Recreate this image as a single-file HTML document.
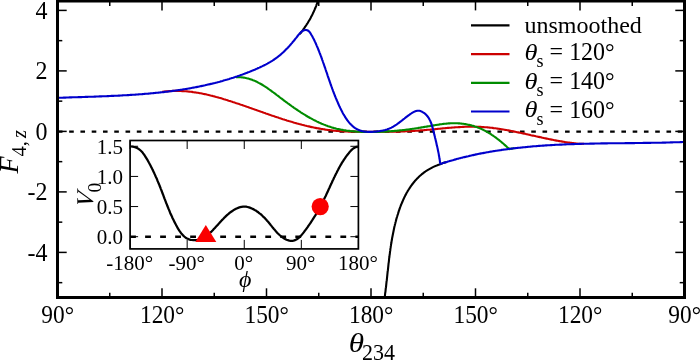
<!DOCTYPE html>
<html><head><meta charset="utf-8"><style>
html,body{margin:0;padding:0;background:#fff;}
svg{display:block;}
text{font-family:"Liberation Serif","Times New Roman",serif;fill:#000;}
</style></head><body>
<svg width="700" height="360" viewBox="0 0 700 360">
<defs><clipPath id="cmain"><rect x="57.5" y="1.2" width="627" height="296.3"/></clipPath></defs>
<rect width="700" height="360" fill="#fff"/>
<line x1="57.9" y1="131.6" x2="684" y2="131.6" stroke="#000" stroke-width="2.3" stroke-dasharray="4.6 6.67"/>
<g fill="none" stroke-linejoin="round" clip-path="url(#cmain)">
<path d="M299.7,34.2 L300.4,33.3 L301.0,32.5 L301.6,31.7 L302.3,30.9 L302.9,30.1 L303.5,29.2 L304.1,28.4 L304.6,27.6 L305.2,26.7 L305.8,25.9 L306.4,25.0 L306.9,24.1 L307.5,23.3 L308.0,22.4 L308.5,21.5 L309.0,20.7 L309.6,19.8 L310.1,18.9 L310.6,18.0 L311.0,17.1 L311.5,16.2 L312.0,15.3 L312.5,14.3 L312.9,13.4 L313.3,12.5 L313.8,11.5 L314.2,10.6 L314.6,9.7 L315.0,8.7 L315.4,7.8 L315.8,6.8 L316.2,5.8 L316.5,4.9 L316.9,3.9 L317.2,2.9 L317.6,1.9 L317.9,0.9 L318.2,-0.1 L318.5,-1.1 L318.8,-2.1" stroke="#000" stroke-width="2.1"/>
<path d="M384.0,301.7 L384.2,300.8 L384.3,299.8 L384.4,298.8 L384.6,297.9 L384.7,296.9 L384.9,296.0 L385.0,295.0 L385.1,294.0 L385.2,293.0 L385.4,292.1 L385.5,291.1 L385.6,290.1 L385.7,289.1 L385.8,288.1 L386.0,287.2 L386.1,286.2 L386.2,285.2 L386.3,284.2 L386.4,283.2 L386.5,282.2 L386.6,281.2 L386.8,280.2 L386.9,279.2 L387.0,278.2 L387.1,277.2 L387.2,276.2 L387.3,275.2 L387.4,274.2 L387.5,273.2 L387.6,272.2 L387.7,271.2 L387.9,270.2 L388.0,269.2 L388.1,268.2 L388.2,267.1 L388.3,266.1 L388.4,265.1 L388.5,264.1 L388.6,263.1 L388.8,262.1 L388.9,261.1 L389.0,260.1 L389.1,259.0 L389.2,258.0 L389.4,257.0 L389.5,256.0 L389.6,255.0 L389.8,254.0 L389.9,253.0 L390.0,251.9 L390.2,250.9 L390.3,249.9 L390.4,248.9 L390.6,247.9 L390.7,246.9 L390.9,245.9 L391.0,244.8 L391.2,243.8 L391.4,242.8 L391.5,241.8 L391.7,240.8 L391.9,239.8 L392.0,238.8 L392.2,237.8 L392.4,236.8 L392.6,235.8 L392.8,234.8 L393.0,233.8 L393.2,232.8 L393.4,231.8 L393.6,230.8 L393.8,229.8 L394.0,228.8 L394.2,227.8 L394.4,226.8 L394.7,225.8 L394.9,224.8 L395.2,223.8 L395.4,222.8 L395.7,221.8 L395.9,220.9 L396.2,219.9 L396.4,218.9 L396.7,217.9 L397.0,217.0 L397.3,216.0 L397.6,215.0 L397.9,214.1 L398.2,213.1 L398.5,212.1 L398.8,211.2 L399.1,210.2 L399.5,209.3 L399.8,208.3 L400.1,207.4 L400.5,206.4 L400.8,205.5 L401.2,204.5 L401.6,203.6 L402.0,202.7 L402.4,201.8 L402.8,200.8 L403.2,199.9 L403.6,199.0 L404.0,198.1 L404.4,197.2 L404.9,196.3 L405.3,195.4 L405.8,194.6 L406.2,193.7 L406.7,192.8 L407.2,192.0 L407.7,191.1 L408.2,190.3 L408.7,189.4 L409.3,188.6 L409.8,187.8 L410.4,186.9 L410.9,186.1 L411.5,185.3 L412.1,184.5 L412.7,183.8 L413.3,183.0 L413.9,182.2 L414.5,181.5 L415.1,180.7 L415.8,180.0 L416.5,179.3 L417.1,178.6 L417.8,177.9 L418.5,177.2 L419.2,176.5 L420.0,175.8 L420.7,175.2 L421.5,174.5 L422.2,173.9 L423.0,173.3 L423.8,172.7 L424.6,172.1 L425.4,171.5 L426.3,170.9 L427.1,170.4 L428.0,169.8 L428.9,169.3 L429.8,168.8 L430.7,168.3 L431.6,167.8 L432.5,167.3 L433.5,166.9 L434.5,166.4 L435.5,166.0 L436.5,165.6 L437.5,165.2 L438.5,164.8 L439.6,164.5 L440.6,164.1 L441.2,163.7 L442.1,163.4 L443.1,163.0 L444.0,162.7 L445.0,162.4 L446.0,162.2" stroke="#000" stroke-width="2.1"/>
<path d="M162.0,91.8 L163.0,91.7 L164.1,91.6 L165.1,91.5 L166.1,91.4 L167.1,91.3 L168.1,91.2 L169.1,91.1 L170.1,91.1 L171.1,91.0 L172.1,91.0 L173.1,90.9 L174.1,90.9 L175.1,90.9 L176.1,90.9 L177.1,90.9 L178.1,90.9 L179.1,90.9 L180.1,91.0 L181.1,91.0 L182.1,91.1 L183.1,91.1 L184.1,91.2 L185.1,91.2 L186.1,91.3 L187.1,91.4 L188.1,91.5 L189.0,91.6 L190.0,91.7 L191.0,91.8 L192.0,91.9 L193.0,92.1 L194.0,92.2 L194.9,92.4 L195.9,92.5 L196.9,92.7 L197.9,92.8 L198.9,93.0 L199.8,93.2 L200.8,93.3 L201.8,93.5 L202.8,93.7 L203.7,93.9 L204.7,94.1 L205.7,94.3 L206.7,94.6 L207.6,94.8 L208.6,95.0 L209.6,95.2 L210.5,95.5 L211.5,95.7 L212.5,95.9 L213.4,96.2 L214.4,96.4 L215.4,96.7 L216.3,97.0 L217.3,97.2 L218.3,97.5 L219.2,97.8 L220.2,98.0 L221.2,98.3 L222.1,98.6 L223.1,98.9 L224.0,99.2 L225.0,99.5 L225.9,99.8 L226.9,100.1 L227.9,100.4 L228.8,100.7 L229.8,101.0 L230.7,101.3 L231.7,101.6 L232.6,101.9 L233.6,102.2 L234.5,102.5 L235.5,102.9 L236.5,103.2 L237.4,103.5 L238.4,103.8 L239.3,104.1 L240.3,104.5 L241.2,104.8 L242.2,105.1 L243.1,105.4 L244.1,105.8 L245.0,106.1 L246.0,106.4 L246.9,106.8 L247.9,107.1 L248.8,107.4 L249.7,107.8 L250.7,108.1 L251.6,108.4 L252.6,108.8 L253.5,109.1 L254.5,109.4 L255.4,109.8 L256.4,110.1 L257.3,110.4 L258.3,110.8 L259.2,111.1 L260.2,111.4 L261.1,111.8 L262.1,112.1 L263.0,112.4 L263.9,112.8 L264.9,113.1 L265.8,113.4 L266.8,113.7 L267.7,114.1 L268.7,114.4 L269.6,114.7 L270.6,115.1 L271.5,115.4 L272.5,115.7 L273.4,116.0 L274.4,116.3 L275.3,116.7 L276.3,117.0 L277.2,117.3 L278.2,117.6 L279.1,117.9 L280.1,118.2 L281.0,118.6 L282.0,118.9 L282.9,119.2 L283.9,119.5 L284.8,119.8 L285.8,120.1 L286.7,120.4 L287.7,120.7 L288.6,121.0 L289.6,121.2 L290.5,121.5 L291.5,121.8 L292.4,122.1 L293.4,122.4 L294.4,122.7 L295.3,122.9 L296.3,123.2 L297.2,123.5 L298.2,123.7 L299.2,124.0 L300.1,124.2 L301.1,124.5 L302.0,124.8 L303.0,125.0 L304.0,125.2 L304.9,125.5 L305.9,125.7 L306.9,126.0 L307.8,126.2 L308.8,126.4 L309.8,126.6 L310.7,126.9 L311.7,127.1 L312.7,127.3 L313.7,127.5 L314.6,127.7 L315.6,127.9 L316.6,128.1 L317.6,128.3 L318.5,128.4 L319.5,128.6 L320.5,128.8 L321.5,129.0 L322.5,129.1 L323.4,129.3 L324.4,129.4 L325.4,129.6 L326.4,129.7 L327.4,129.9 L328.4,130.0 L329.4,130.1 L330.4,130.3 L331.4,130.4 L332.4,130.5 L333.3,130.6 L334.3,130.7 L335.3,130.8 L336.3,130.9 L337.3,131.0 L338.3,131.0 L339.4,131.1 L340.4,131.2 L341.4,131.2 L342.4,131.3 L343.4,131.4 L344.4,131.4 L345.4,131.4 L346.4,131.5 L347.4,131.5 L348.4,131.6 L349.4,131.6 L350.4,131.6 L351.5,131.7 L352.5,131.7 L353.5,131.7 L354.5,131.7 L355.5,131.7 L356.5,131.7 L357.5,131.7 L358.5,131.8 L359.6,131.8 L360.6,131.8 L361.6,131.8 L362.6,131.8 L363.6,131.8 L364.6,131.8 L365.6,131.8 L366.6,131.8 L367.7,131.8 L368.7,131.8 L369.7,131.8 L370.7,131.8 L371.7,131.8 L372.7,131.8 L373.7,131.8 L374.7,131.8 L375.7,131.8 L376.7,131.8 L377.7,131.8 L378.7,131.8 L379.7,131.8 L380.7,131.8 L381.7,131.8 L382.7,131.8 L383.7,131.8 L384.7,131.8 L385.7,131.8 L386.7,131.7 L387.7,131.7 L388.7,131.7 L389.7,131.7 L390.7,131.7 L391.7,131.7 L392.7,131.7 L393.7,131.7 L394.7,131.6 L395.7,131.6 L396.7,131.6 L397.7,131.6 L398.7,131.6 L399.7,131.5 L400.7,131.5 L401.7,131.5 L402.7,131.5 L403.7,131.4 L404.7,131.4 L405.7,131.3 L406.7,131.3 L407.7,131.3 L408.7,131.2 L409.7,131.2 L410.7,131.1 L411.6,131.1 L412.6,131.0 L413.6,130.9 L414.6,130.9 L415.6,130.8 L416.6,130.7 L417.6,130.7 L418.6,130.6 L419.6,130.5 L420.6,130.4 L421.6,130.4 L422.6,130.3 L423.6,130.2 L424.6,130.1 L425.6,130.0 L426.7,129.9 L427.7,129.8 L428.7,129.7 L429.7,129.7 L430.7,129.6 L431.7,129.5 L432.7,129.4 L433.7,129.3 L434.7,129.2 L435.7,129.1 L436.7,129.0 L437.7,128.9 L438.7,128.8 L439.7,128.7 L440.7,128.6 L441.7,128.5 L442.7,128.4 L443.7,128.3 L444.7,128.2 L445.7,128.1 L446.7,128.0 L447.7,127.9 L448.7,127.9 L449.7,127.8 L450.7,127.7 L451.7,127.6 L452.7,127.5 L453.7,127.5 L454.7,127.4 L455.7,127.3 L456.7,127.3 L457.7,127.2 L458.8,127.1 L459.8,127.1 L460.8,127.0 L461.8,127.0 L462.8,126.9 L463.8,126.9 L464.8,126.8 L465.8,126.8 L466.8,126.8 L467.8,126.8 L468.8,126.7 L469.8,126.7 L470.8,126.7 L471.8,126.7 L472.8,126.7 L473.7,126.7 L474.7,126.7 L475.7,126.7 L476.7,126.8 L477.7,126.8 L478.7,126.8 L479.7,126.9 L480.7,126.9 L481.7,127.0 L482.7,127.0 L483.7,127.1 L484.7,127.2 L485.7,127.2 L486.7,127.3 L487.7,127.4 L488.7,127.5 L489.6,127.6 L490.6,127.7 L491.6,127.8 L492.6,127.9 L493.6,128.1 L494.6,128.2 L495.6,128.3 L496.6,128.5 L497.5,128.6 L498.5,128.7 L499.5,128.9 L500.5,129.0 L501.5,129.2 L502.5,129.4 L503.5,129.5 L504.4,129.7 L505.4,129.9 L506.4,130.0 L507.4,130.2 L508.4,130.4 L509.4,130.6 L510.4,130.8 L511.3,131.0 L512.3,131.2 L513.3,131.4 L514.3,131.6 L515.3,131.8 L516.2,132.0 L517.2,132.2 L518.2,132.4 L519.2,132.6 L520.2,132.8 L521.2,133.0 L522.1,133.2 L523.1,133.4 L524.1,133.6 L525.1,133.8 L526.1,134.1 L527.0,134.3 L528.0,134.5 L529.0,134.7 L530.0,134.9 L531.0,135.2 L531.9,135.4 L532.9,135.6 L533.9,135.8 L534.9,136.0 L535.9,136.3 L536.9,136.5 L537.8,136.7 L538.8,136.9 L539.8,137.1 L540.8,137.3 L541.8,137.6 L542.7,137.8 L543.7,138.0 L544.7,138.2 L545.7,138.4 L546.7,138.6 L547.6,138.8 L548.6,139.0 L549.6,139.2 L550.6,139.4 L551.6,139.6 L552.6,139.8 L553.5,140.0 L554.5,140.2 L555.5,140.4 L556.5,140.6 L557.5,140.8 L558.5,140.9 L559.4,141.1 L560.4,141.3 L561.4,141.4 L562.4,141.6 L563.4,141.8 L564.4,141.9 L565.3,142.1 L566.3,142.2 L567.3,142.4 L568.3,142.5 L569.3,142.6 L570.3,142.8 L571.3,142.9 L572.2,143.0 L573.2,143.1 L574.2,143.3 L575.2,143.4 L576.2,143.5 L577.2,143.6 L578.2,143.7 L578.9,143.9 L579.9,143.9 L580.9,143.9 L581.9,143.8 L582.9,143.8 L584.0,143.8" stroke="#cc0000" stroke-width="2.1"/>
<path d="M236.0,77.3 L237.0,77.3 L238.0,77.2 L239.0,77.2 L240.0,77.3 L241.0,77.3 L241.9,77.4 L242.9,77.5 L243.8,77.6 L244.8,77.8 L245.7,78.0 L246.7,78.2 L247.6,78.4 L248.5,78.6 L249.4,78.9 L250.3,79.2 L251.2,79.5 L252.1,79.8 L253.0,80.2 L253.9,80.5 L254.8,80.9 L255.7,81.3 L256.6,81.7 L257.5,82.2 L258.3,82.6 L259.2,83.1 L260.0,83.5 L260.9,84.0 L261.8,84.5 L262.6,85.0 L263.5,85.5 L264.3,86.1 L265.2,86.6 L266.0,87.2 L266.8,87.7 L267.7,88.3 L268.5,88.9 L269.3,89.5 L270.2,90.1 L271.0,90.7 L271.8,91.3 L272.6,91.9 L273.5,92.5 L274.3,93.1 L275.1,93.7 L275.9,94.3 L276.7,95.0 L277.6,95.6 L278.4,96.2 L279.2,96.8 L280.0,97.5 L280.8,98.1 L281.7,98.7 L282.5,99.3 L283.3,99.9 L284.1,100.6 L284.9,101.2 L285.8,101.8 L286.6,102.4 L287.4,103.0 L288.2,103.6 L289.1,104.2 L289.9,104.8 L290.7,105.4 L291.5,106.0 L292.4,106.6 L293.2,107.2 L294.0,107.8 L294.9,108.3 L295.7,108.9 L296.5,109.5 L297.4,110.0 L298.2,110.6 L299.0,111.2 L299.9,111.7 L300.7,112.3 L301.6,112.8 L302.4,113.4 L303.3,113.9 L304.1,114.4 L305.0,114.9 L305.8,115.5 L306.7,116.0 L307.5,116.5 L308.4,117.0 L309.3,117.5 L310.1,118.0 L311.0,118.4 L311.9,118.9 L312.7,119.4 L313.6,119.8 L314.5,120.3 L315.4,120.7 L316.3,121.2 L317.1,121.6 L318.0,122.0 L318.9,122.5 L319.8,122.9 L320.7,123.3 L321.6,123.7 L322.5,124.0 L323.4,124.4 L324.4,124.8 L325.3,125.1 L326.2,125.5 L327.1,125.8 L328.0,126.2 L329.0,126.5 L329.9,126.8 L330.8,127.1 L331.8,127.4 L332.7,127.7 L333.7,127.9 L334.6,128.2 L335.6,128.4 L336.6,128.7 L337.5,128.9 L338.5,129.1 L339.5,129.3 L340.5,129.5 L341.4,129.7 L342.4,129.9 L343.4,130.1 L344.4,130.2 L345.4,130.4 L346.4,130.6 L347.4,130.7 L348.4,130.8 L349.4,130.9 L350.4,131.1 L351.4,131.2 L352.4,131.3 L353.4,131.4 L354.4,131.5 L355.4,131.5 L356.5,131.6 L357.5,131.7 L358.5,131.7 L359.5,131.8 L360.5,131.8 L361.5,131.9 L362.6,131.9 L363.6,132.0 L364.6,132.0 L365.6,132.0 L366.6,132.0 L367.6,132.0 L368.7,132.0 L369.7,132.0 L370.7,132.0 L371.7,132.0 L372.7,132.0 L373.7,132.0 L374.7,132.0 L375.8,132.0 L376.8,131.9 L377.8,131.9 L378.8,131.9 L379.8,131.9 L380.8,131.8 L381.8,131.8 L382.8,131.7 L383.8,131.7 L384.8,131.6 L385.8,131.6 L386.8,131.5 L387.8,131.4 L388.8,131.4 L389.8,131.3 L390.8,131.2 L391.8,131.1 L392.8,131.1 L393.8,131.0 L394.8,130.9 L395.8,130.8 L396.8,130.7 L397.8,130.6 L398.8,130.5 L399.8,130.4 L400.8,130.3 L401.8,130.2 L402.8,130.1 L403.8,130.0 L404.8,129.9 L405.8,129.7 L406.8,129.6 L407.8,129.5 L408.8,129.4 L409.8,129.2 L410.7,129.1 L411.7,129.0 L412.7,128.8 L413.7,128.7 L414.7,128.5 L415.7,128.4 L416.7,128.2 L417.7,128.1 L418.7,127.9 L419.7,127.8 L420.7,127.6 L421.7,127.4 L422.7,127.3 L423.7,127.1 L424.7,126.9 L425.7,126.8 L426.7,126.6 L427.7,126.4 L428.7,126.2 L429.7,126.1 L430.7,125.9 L431.7,125.7 L432.7,125.6 L433.7,125.4 L434.7,125.2 L435.7,125.0 L436.7,124.9 L437.7,124.7 L438.7,124.6 L439.7,124.4 L440.7,124.3 L441.7,124.2 L442.6,124.0 L443.6,123.9 L444.6,123.8 L445.6,123.7 L446.6,123.6 L447.6,123.5 L448.6,123.4 L449.6,123.4 L450.6,123.3 L451.6,123.3 L452.6,123.3 L453.6,123.3 L454.5,123.3 L455.5,123.3 L456.5,123.3 L457.5,123.3 L458.5,123.4 L459.4,123.4 L460.4,123.5 L461.4,123.6 L462.4,123.7 L463.3,123.8 L464.3,124.0 L465.3,124.1 L466.2,124.3 L467.2,124.5 L468.1,124.7 L469.1,124.9 L470.0,125.1 L471.0,125.3 L471.9,125.6 L472.9,125.8 L473.8,126.1 L474.7,126.4 L475.7,126.7 L476.6,127.0 L477.5,127.4 L478.4,127.7 L479.4,128.1 L480.3,128.5 L481.2,128.9 L482.1,129.3 L483.0,129.7 L483.9,130.2 L484.8,130.6 L485.6,131.1 L486.5,131.6 L487.4,132.1 L488.3,132.6 L489.1,133.1 L490.0,133.7 L490.9,134.2 L491.7,134.8 L492.6,135.3 L493.4,135.9 L494.2,136.5 L495.1,137.1 L495.9,137.7 L496.7,138.3 L497.6,139.0 L498.4,139.6 L499.2,140.2 L500.0,140.9 L500.8,141.5 L501.6,142.2 L502.4,142.9 L503.2,143.5 L504.0,144.2 L504.7,144.9 L505.5,145.6 L506.3,146.3 L507.0,147.0 L507.8,147.7 L508.6,148.4 L509.3,149.1 L509.7,148.8 L510.7,148.7 L511.7,148.6 L512.7,148.5 L513.7,148.3 L514.7,148.2" stroke="#008c00" stroke-width="2.1"/>
<path d="M57.6,97.8 L58.6,97.8 L59.6,97.8 L60.6,97.7 L61.6,97.7 L62.6,97.7 L63.6,97.6 L64.5,97.6 L65.5,97.6 L66.5,97.5 L67.5,97.5 L68.5,97.5 L69.5,97.4 L70.5,97.4 L71.5,97.4 L72.5,97.3 L73.5,97.3 L74.4,97.3 L75.4,97.2 L76.4,97.2 L77.4,97.2 L78.4,97.1 L79.4,97.1 L80.4,97.1 L81.4,97.1 L82.4,97.0 L83.4,97.0 L84.4,97.0 L85.4,96.9 L86.4,96.9 L87.4,96.9 L88.4,96.8 L89.4,96.8 L90.4,96.8 L91.4,96.7 L92.4,96.7 L93.4,96.7 L94.4,96.6 L95.4,96.6 L96.4,96.5 L97.4,96.5 L98.4,96.5 L99.4,96.4 L100.4,96.4 L101.4,96.4 L102.4,96.3 L103.4,96.3 L104.4,96.2 L105.4,96.2 L106.4,96.2 L107.4,96.1 L108.4,96.1 L109.4,96.0 L110.4,96.0 L111.4,95.9 L112.4,95.9 L113.4,95.9 L114.5,95.8 L115.5,95.8 L116.5,95.7 L117.5,95.7 L118.5,95.6 L119.5,95.6 L120.5,95.5 L121.5,95.5 L122.5,95.4 L123.5,95.3 L124.5,95.3 L125.5,95.2 L126.5,95.2 L127.5,95.1 L128.5,95.1 L129.5,95.0 L130.5,94.9 L131.5,94.9 L132.5,94.8 L133.5,94.7 L134.6,94.7 L135.6,94.6 L136.6,94.5 L137.6,94.5 L138.6,94.4 L139.6,94.3 L140.6,94.2 L141.6,94.2 L142.6,94.1 L143.6,94.0 L144.6,93.9 L145.6,93.8 L146.6,93.7 L147.6,93.7 L148.6,93.6 L149.6,93.5 L150.6,93.4 L151.6,93.3 L152.6,93.2 L153.6,93.1 L154.6,93.0 L155.6,92.9 L156.6,92.8 L157.6,92.7 L158.6,92.6 L159.6,92.5 L160.6,92.4 L161.6,92.3 L162.6,92.2 L163.6,92.1 L164.6,91.9 L165.6,91.8 L166.6,91.7 L167.6,91.6 L168.6,91.5 L169.6,91.3 L170.6,91.2 L171.6,91.1 L172.6,90.9 L173.6,90.8 L174.6,90.7 L175.6,90.5 L176.6,90.4 L177.6,90.2 L178.5,90.1 L179.5,90.0 L180.5,89.8 L181.5,89.7 L182.5,89.5 L183.5,89.3 L184.5,89.2 L185.5,89.0 L186.5,88.9 L187.5,88.7 L188.4,88.5 L189.4,88.4 L190.4,88.2 L191.4,88.0 L192.4,87.8 L193.4,87.6 L194.4,87.5 L195.3,87.3 L196.3,87.1 L197.3,86.9 L198.3,86.7 L199.3,86.5 L200.2,86.3 L201.2,86.1 L202.2,85.9 L203.2,85.7 L204.1,85.5 L205.1,85.3 L206.1,85.0 L207.1,84.8 L208.0,84.6 L209.0,84.4 L210.0,84.1 L211.0,83.9 L211.9,83.7 L212.9,83.4 L213.9,83.2 L214.8,83.0 L215.8,82.7 L216.8,82.5 L217.7,82.2 L218.7,82.0 L219.7,81.7 L220.6,81.4 L221.6,81.2 L222.6,80.9 L223.5,80.6 L224.5,80.3 L225.4,80.1 L226.4,79.8 L227.4,79.5 L228.3,79.2 L229.3,78.9 L230.2,78.6 L231.2,78.3 L232.1,78.0 L233.1,77.7 L234.0,77.4 L235.0,77.1 L235.9,76.8 L236.9,76.5 L237.8,76.1 L238.8,75.8 L239.7,75.5 L240.6,75.1 L241.6,74.8 L242.5,74.5 L243.5,74.1 L244.4,73.8 L245.3,73.4 L246.3,73.1 L247.2,72.7 L248.1,72.3 L249.1,72.0 L250.0,71.6 L250.9,71.2 L251.9,70.8 L252.8,70.4 L253.7,70.1 L254.7,69.7 L255.6,69.3 L256.5,68.9 L257.4,68.5 L258.3,68.0 L259.3,67.6 L260.2,67.2 L261.1,66.8 L262.0,66.4 L262.9,65.9 L263.8,65.5 L264.7,65.0 L265.6,64.6 L266.5,64.1 L267.4,63.6 L268.2,63.1 L269.1,62.6 L270.0,62.1 L270.8,61.6 L271.7,61.1 L272.5,60.6 L273.4,60.0 L274.2,59.5 L275.0,58.9 L275.8,58.3 L276.7,57.7 L277.5,57.1 L278.2,56.5 L279.0,55.9 L279.8,55.3 L280.6,54.6 L281.3,54.0 L282.1,53.3 L282.8,52.6 L283.6,52.0 L284.3,51.3 L285.0,50.6 L285.7,49.8 L286.4,49.1 L287.1,48.4 L287.8,47.7 L288.5,46.9 L289.2,46.2 L289.9,45.4 L290.5,44.7 L291.2,43.9 L291.9,43.1 L292.5,42.3 L293.2,41.6 L293.8,40.8 L294.5,40.0 L295.1,39.2 L295.7,38.4 L296.4,37.6 L297.0,36.8 L297.6,36.0 L298.2,35.2 L298.9,34.4 L299.5,33.7 L300.2,32.9 L300.9,32.2 L301.6,31.6 L302.4,31.1 L303.3,30.6 L304.2,30.3 L305.2,30.0 L306.1,30.0 L307.0,30.1 L307.8,30.5 L308.6,31.0 L309.3,31.7 L309.9,32.4 L310.5,33.3 L311.0,34.2 L311.5,35.1 L312.1,36.0 L312.6,36.9 L313.0,37.8 L313.5,38.7 L314.0,39.6 L314.4,40.5 L314.8,41.4 L315.3,42.4 L315.7,43.3 L316.1,44.2 L316.5,45.1 L316.9,46.1 L317.3,47.0 L317.7,47.9 L318.1,48.9 L318.4,49.8 L318.8,50.7 L319.2,51.7 L319.5,52.6 L319.9,53.5 L320.3,54.5 L320.6,55.4 L321.0,56.3 L321.3,57.3 L321.7,58.2 L322.0,59.2 L322.3,60.1 L322.7,61.0 L323.0,62.0 L323.3,62.9 L323.7,63.9 L324.0,64.8 L324.3,65.7 L324.6,66.7 L325.0,67.6 L325.3,68.5 L325.6,69.5 L325.9,70.4 L326.2,71.4 L326.6,72.3 L326.9,73.2 L327.2,74.2 L327.5,75.1 L327.8,76.1 L328.1,77.0 L328.5,78.0 L328.8,78.9 L329.1,79.8 L329.4,80.8 L329.8,81.7 L330.1,82.7 L330.4,83.6 L330.7,84.5 L331.1,85.5 L331.4,86.4 L331.8,87.4 L332.1,88.3 L332.4,89.2 L332.8,90.2 L333.1,91.1 L333.5,92.0 L333.8,93.0 L334.2,93.9 L334.6,94.9 L334.9,95.8 L335.3,96.7 L335.7,97.7 L336.1,98.6 L336.5,99.5 L336.9,100.5 L337.3,101.4 L337.7,102.3 L338.1,103.3 L338.5,104.2 L338.9,105.1 L339.3,106.0 L339.8,107.0 L340.2,107.9 L340.7,108.8 L341.1,109.8 L341.6,110.7 L342.1,111.6 L342.5,112.5 L343.0,113.4 L343.5,114.3 L344.1,115.2 L344.6,116.1 L345.1,117.0 L345.7,117.8 L346.2,118.7 L346.8,119.5 L347.4,120.3 L348.0,121.1 L348.6,121.9 L349.2,122.6 L349.8,123.4 L350.5,124.1 L351.2,124.8 L351.9,125.4 L352.6,126.1 L353.3,126.7 L354.1,127.3 L354.8,127.8 L355.6,128.3 L356.4,128.8 L357.2,129.3 L358.1,129.7 L359.0,130.1 L359.9,130.4 L360.8,130.7 L361.7,131.0 L362.7,131.2 L363.6,131.4 L364.6,131.6 L365.6,131.7 L366.7,131.8 L367.7,131.9 L368.7,131.9 L369.8,131.9 L370.9,131.9 L371.9,131.9 L373.0,131.8 L374.0,131.8 L375.1,131.7 L376.1,131.6 L377.2,131.5 L378.2,131.3 L379.2,131.2 L380.2,131.0 L381.2,130.8 L382.2,130.7 L383.2,130.4 L384.1,130.2 L385.1,130.0 L386.0,129.7 L387.0,129.4 L387.9,129.1 L388.8,128.8 L389.7,128.4 L390.6,128.0 L391.4,127.6 L392.3,127.1 L393.2,126.7 L394.0,126.2 L394.8,125.7 L395.6,125.1 L396.5,124.6 L397.3,124.0 L398.1,123.4 L398.9,122.8 L399.7,122.2 L400.5,121.6 L401.3,121.0 L402.1,120.4 L402.9,119.7 L403.7,119.1 L404.5,118.5 L405.3,117.8 L406.1,117.2 L406.9,116.6 L407.8,115.9 L408.6,115.3 L409.5,114.7 L410.3,114.1 L411.2,113.5 L412.1,112.9 L413.0,112.4 L413.9,111.9 L414.8,111.5 L415.7,111.1 L416.6,110.9 L417.5,110.8 L418.4,110.7 L419.4,110.8 L420.3,111.0 L421.2,111.4 L422.1,111.8 L423.0,112.3 L423.9,112.8 L424.7,113.4 L425.4,114.1 L426.1,114.8 L426.8,115.5 L427.4,116.2 L428.0,117.0 L428.6,117.8 L429.1,118.7 L429.5,119.5 L430.0,120.4 L430.4,121.3 L430.8,122.3 L431.2,123.2 L431.5,124.2 L431.8,125.1 L432.1,126.1 L432.4,127.1 L432.7,128.1 L433.0,129.1 L433.2,130.1 L433.5,131.1 L433.7,132.1 L433.9,133.1 L434.2,134.1 L434.4,135.1 L434.7,136.0 L434.9,137.0 L435.1,138.0 L435.4,138.9 L435.6,139.9 L435.8,140.9 L436.1,141.8 L436.3,142.8 L436.5,143.8 L436.7,144.7 L436.9,145.7 L437.2,146.6 L437.4,147.6 L437.6,148.5 L437.8,149.5 L438.0,150.5 L438.2,151.4 L438.4,152.4 L438.6,153.4 L438.8,154.4 L438.9,155.3 L439.1,156.3 L439.3,157.3 L439.4,158.3 L439.6,159.3 L439.8,160.3 L439.9,161.3 L440.0,162.3 L440.2,163.4 L440.3,164.4" stroke="#0000cc" stroke-width="2.1"/>
<path d="M440.2,164.0 L441.2,163.7 L442.1,163.4 L443.1,163.0 L444.0,162.7 L445.0,162.4 L446.0,162.2 L446.9,161.9 L447.9,161.6 L448.9,161.3 L449.8,161.0 L450.8,160.7 L451.8,160.4 L452.7,160.2 L453.7,159.9 L454.7,159.6 L455.7,159.4 L456.6,159.1 L457.6,158.8 L458.6,158.6 L459.5,158.3 L460.5,158.1 L461.5,157.8 L462.5,157.6 L463.4,157.3 L464.4,157.1 L465.4,156.9 L466.4,156.6 L467.3,156.4 L468.3,156.2 L469.3,155.9 L470.3,155.7 L471.3,155.5 L472.2,155.3 L473.2,155.1 L474.2,154.9 L475.2,154.6 L476.2,154.4 L477.1,154.2 L478.1,154.0 L479.1,153.8 L480.1,153.6 L481.1,153.4 L482.0,153.3 L483.0,153.1 L484.0,152.9 L485.0,152.7 L486.0,152.5 L487.0,152.3 L488.0,152.2 L488.9,152.0 L489.9,151.8 L490.9,151.6 L491.9,151.5 L492.9,151.3 L493.9,151.1 L494.9,151.0 L495.9,150.8 L496.8,150.7 L497.8,150.5 L498.8,150.4 L499.8,150.2 L500.8,150.1 L501.8,149.9 L502.8,149.8 L503.8,149.6 L504.8,149.5 L505.8,149.4 L506.8,149.2 L507.8,149.1 L508.7,149.0 L509.7,148.8 L510.7,148.7 L511.7,148.6 L512.7,148.5 L513.7,148.3 L514.7,148.2 L515.7,148.1 L516.7,148.0 L517.7,147.9 L518.7,147.8 L519.7,147.7 L520.7,147.6 L521.7,147.5 L522.7,147.4 L523.7,147.3 L524.7,147.2 L525.7,147.1 L526.7,147.0 L527.7,146.9 L528.7,146.8 L529.7,146.7 L530.7,146.6 L531.7,146.5 L532.7,146.4 L533.7,146.3 L534.7,146.3 L535.7,146.2 L536.7,146.1 L537.7,146.0 L538.7,145.9 L539.7,145.9 L540.7,145.8 L541.7,145.7 L542.7,145.6 L543.7,145.6 L544.7,145.5 L545.7,145.4 L546.7,145.4 L547.7,145.3 L548.7,145.2 L549.7,145.2 L550.7,145.1 L551.7,145.1 L552.7,145.0 L553.7,145.0 L554.8,144.9 L555.8,144.8 L556.8,144.8 L557.8,144.7 L558.8,144.7 L559.8,144.6 L560.8,144.6 L561.8,144.6 L562.8,144.5 L563.8,144.5 L564.8,144.4 L565.8,144.4 L566.8,144.3 L567.8,144.3 L568.8,144.3 L569.8,144.2 L570.9,144.2 L571.9,144.1 L572.9,144.1 L573.9,144.1 L574.9,144.0 L575.9,144.0 L576.9,144.0 L577.9,144.0 L578.9,143.9 L579.9,143.9 L580.9,143.9 L581.9,143.8 L582.9,143.8 L584.0,143.8 L585.0,143.8 L586.0,143.7 L587.0,143.7 L588.0,143.7 L589.0,143.7 L590.0,143.6 L591.0,143.6 L592.0,143.6 L593.0,143.6 L594.0,143.6 L595.0,143.5 L596.1,143.5 L597.1,143.5 L598.1,143.5 L599.1,143.5 L600.1,143.5 L601.1,143.4 L602.1,143.4 L603.1,143.4 L604.1,143.4 L605.1,143.4 L606.1,143.4 L607.1,143.4 L608.2,143.3 L609.2,143.3 L610.2,143.3 L611.2,143.3 L612.2,143.3 L613.2,143.3 L614.2,143.3 L615.2,143.3 L616.2,143.2 L617.2,143.2 L618.2,143.2 L619.2,143.2 L620.3,143.2 L621.3,143.2 L622.3,143.2 L623.3,143.2 L624.3,143.2 L625.3,143.1 L626.3,143.1 L627.3,143.1 L628.3,143.1 L629.3,143.1 L630.3,143.1 L631.3,143.1 L632.3,143.1 L633.3,143.1 L634.3,143.1 L635.4,143.0 L636.4,143.0 L637.4,143.0 L638.4,143.0 L639.4,143.0 L640.4,143.0 L641.4,143.0 L642.4,143.0 L643.4,142.9 L644.4,142.9 L645.4,142.9 L646.4,142.9 L647.4,142.9 L648.4,142.9 L649.4,142.9 L650.4,142.9 L651.4,142.8 L652.4,142.8 L653.4,142.8 L654.4,142.8 L655.4,142.8 L656.4,142.7 L657.4,142.7 L658.4,142.7 L659.4,142.7 L660.5,142.7 L661.5,142.7 L662.5,142.6 L663.5,142.6 L664.5,142.6 L665.5,142.6 L666.5,142.5 L667.5,142.5 L668.5,142.5 L669.5,142.5 L670.5,142.4 L671.5,142.4 L672.4,142.4 L673.4,142.3 L674.4,142.3 L675.4,142.3 L676.4,142.3 L677.4,142.2 L678.4,142.2 L679.4,142.2 L680.4,142.1 L681.4,142.1 L682.4,142.0 L683.4,142.0 L684.4,142.0" stroke="#0000cc" stroke-width="2.1"/>
</g>
<line x1="57.50" y1="297.50" x2="57.50" y2="288.30" stroke="#000" stroke-width="1.50"/>
<line x1="57.50" y1="1.20" x2="57.50" y2="10.40" stroke="#000" stroke-width="1.50"/>
<line x1="109.75" y1="297.50" x2="109.75" y2="292.70" stroke="#000" stroke-width="1.50"/>
<line x1="109.75" y1="1.20" x2="109.75" y2="6.00" stroke="#000" stroke-width="1.50"/>
<line x1="162.00" y1="297.50" x2="162.00" y2="288.30" stroke="#000" stroke-width="1.50"/>
<line x1="162.00" y1="1.20" x2="162.00" y2="10.40" stroke="#000" stroke-width="1.50"/>
<line x1="214.25" y1="297.50" x2="214.25" y2="292.70" stroke="#000" stroke-width="1.50"/>
<line x1="214.25" y1="1.20" x2="214.25" y2="6.00" stroke="#000" stroke-width="1.50"/>
<line x1="266.50" y1="297.50" x2="266.50" y2="288.30" stroke="#000" stroke-width="1.50"/>
<line x1="266.50" y1="1.20" x2="266.50" y2="10.40" stroke="#000" stroke-width="1.50"/>
<line x1="318.75" y1="297.50" x2="318.75" y2="292.70" stroke="#000" stroke-width="1.50"/>
<line x1="318.75" y1="1.20" x2="318.75" y2="6.00" stroke="#000" stroke-width="1.50"/>
<line x1="371.00" y1="297.50" x2="371.00" y2="288.30" stroke="#000" stroke-width="1.50"/>
<line x1="371.00" y1="1.20" x2="371.00" y2="10.40" stroke="#000" stroke-width="1.50"/>
<line x1="423.25" y1="297.50" x2="423.25" y2="292.70" stroke="#000" stroke-width="1.50"/>
<line x1="423.25" y1="1.20" x2="423.25" y2="6.00" stroke="#000" stroke-width="1.50"/>
<line x1="475.50" y1="297.50" x2="475.50" y2="288.30" stroke="#000" stroke-width="1.50"/>
<line x1="475.50" y1="1.20" x2="475.50" y2="10.40" stroke="#000" stroke-width="1.50"/>
<line x1="527.75" y1="297.50" x2="527.75" y2="292.70" stroke="#000" stroke-width="1.50"/>
<line x1="527.75" y1="1.20" x2="527.75" y2="6.00" stroke="#000" stroke-width="1.50"/>
<line x1="580.00" y1="297.50" x2="580.00" y2="288.30" stroke="#000" stroke-width="1.50"/>
<line x1="580.00" y1="1.20" x2="580.00" y2="10.40" stroke="#000" stroke-width="1.50"/>
<line x1="632.25" y1="297.50" x2="632.25" y2="292.70" stroke="#000" stroke-width="1.50"/>
<line x1="632.25" y1="1.20" x2="632.25" y2="6.00" stroke="#000" stroke-width="1.50"/>
<line x1="684.50" y1="297.50" x2="684.50" y2="288.30" stroke="#000" stroke-width="1.50"/>
<line x1="684.50" y1="1.20" x2="684.50" y2="10.40" stroke="#000" stroke-width="1.50"/>
<line x1="57.50" y1="282.65" x2="62.30" y2="282.65" stroke="#000" stroke-width="1.50"/>
<line x1="684.50" y1="282.65" x2="679.70" y2="282.65" stroke="#000" stroke-width="1.50"/>
<line x1="57.50" y1="252.40" x2="66.70" y2="252.40" stroke="#000" stroke-width="1.50"/>
<line x1="684.50" y1="252.40" x2="675.30" y2="252.40" stroke="#000" stroke-width="1.50"/>
<line x1="57.50" y1="222.15" x2="62.30" y2="222.15" stroke="#000" stroke-width="1.50"/>
<line x1="684.50" y1="222.15" x2="679.70" y2="222.15" stroke="#000" stroke-width="1.50"/>
<line x1="57.50" y1="191.90" x2="66.70" y2="191.90" stroke="#000" stroke-width="1.50"/>
<line x1="684.50" y1="191.90" x2="675.30" y2="191.90" stroke="#000" stroke-width="1.50"/>
<line x1="57.50" y1="161.65" x2="62.30" y2="161.65" stroke="#000" stroke-width="1.50"/>
<line x1="684.50" y1="161.65" x2="679.70" y2="161.65" stroke="#000" stroke-width="1.50"/>
<line x1="57.50" y1="131.40" x2="66.70" y2="131.40" stroke="#000" stroke-width="1.50"/>
<line x1="684.50" y1="131.40" x2="675.30" y2="131.40" stroke="#000" stroke-width="1.50"/>
<line x1="57.50" y1="101.15" x2="62.30" y2="101.15" stroke="#000" stroke-width="1.50"/>
<line x1="684.50" y1="101.15" x2="679.70" y2="101.15" stroke="#000" stroke-width="1.50"/>
<line x1="57.50" y1="70.90" x2="66.70" y2="70.90" stroke="#000" stroke-width="1.50"/>
<line x1="684.50" y1="70.90" x2="675.30" y2="70.90" stroke="#000" stroke-width="1.50"/>
<line x1="57.50" y1="40.65" x2="62.30" y2="40.65" stroke="#000" stroke-width="1.50"/>
<line x1="684.50" y1="40.65" x2="679.70" y2="40.65" stroke="#000" stroke-width="1.50"/>
<line x1="57.50" y1="10.40" x2="66.70" y2="10.40" stroke="#000" stroke-width="1.50"/>
<line x1="684.50" y1="10.40" x2="675.30" y2="10.40" stroke="#000" stroke-width="1.50"/>
<rect x="57.5" y="1.0" width="627" height="296.5" fill="none" stroke="#000" stroke-width="3"/>
<line x1="471.00" y1="25.40" x2="509.50" y2="25.40" stroke="#000" stroke-width="2.20"/>
<line x1="471.00" y1="54.10" x2="509.50" y2="54.10" stroke="#cc0000" stroke-width="2.20"/>
<line x1="471.00" y1="82.80" x2="509.50" y2="82.80" stroke="#008c00" stroke-width="2.20"/>
<line x1="471.00" y1="111.50" x2="509.50" y2="111.50" stroke="#0000cc" stroke-width="2.20"/>
<rect x="130.1" y="140.5" width="228.3" height="108.4" fill="#fff" stroke="none"/>
<line x1="130.1" y1="236.8" x2="358" y2="236.8" stroke="#000" stroke-width="2.5" stroke-dasharray="5.8 9.22"/>
<line x1="130.10" y1="248.90" x2="130.10" y2="239.90" stroke="#000" stroke-width="1.00"/>
<line x1="130.10" y1="140.50" x2="130.10" y2="149.00" stroke="#000" stroke-width="1.00"/>
<line x1="187.17" y1="248.90" x2="187.17" y2="239.90" stroke="#000" stroke-width="1.00"/>
<line x1="187.17" y1="140.50" x2="187.17" y2="149.00" stroke="#000" stroke-width="1.00"/>
<line x1="244.25" y1="248.90" x2="244.25" y2="239.90" stroke="#000" stroke-width="1.00"/>
<line x1="244.25" y1="140.50" x2="244.25" y2="149.00" stroke="#000" stroke-width="1.00"/>
<line x1="301.32" y1="248.90" x2="301.32" y2="239.90" stroke="#000" stroke-width="1.00"/>
<line x1="301.32" y1="140.50" x2="301.32" y2="149.00" stroke="#000" stroke-width="1.00"/>
<line x1="358.40" y1="248.90" x2="358.40" y2="239.90" stroke="#000" stroke-width="1.00"/>
<line x1="358.40" y1="140.50" x2="358.40" y2="149.00" stroke="#000" stroke-width="1.00"/>
<line x1="130.10" y1="236.70" x2="138.10" y2="236.70" stroke="#000" stroke-width="1.00"/>
<line x1="358.40" y1="236.70" x2="350.40" y2="236.70" stroke="#000" stroke-width="1.00"/>
<line x1="130.10" y1="206.56" x2="138.10" y2="206.56" stroke="#000" stroke-width="1.00"/>
<line x1="358.40" y1="206.56" x2="350.40" y2="206.56" stroke="#000" stroke-width="1.00"/>
<line x1="130.10" y1="176.43" x2="138.10" y2="176.43" stroke="#000" stroke-width="1.00"/>
<line x1="358.40" y1="176.43" x2="350.40" y2="176.43" stroke="#000" stroke-width="1.00"/>
<line x1="130.10" y1="146.29" x2="138.10" y2="146.29" stroke="#000" stroke-width="1.00"/>
<line x1="358.40" y1="146.29" x2="350.40" y2="146.29" stroke="#000" stroke-width="1.00"/>
<path d="M130.9,146.5 L132.6,146.6 L134.2,147.0 L135.6,147.4 L137.0,148.0 L138.3,148.7 L139.5,149.6 L140.6,150.5 L141.6,151.5 L142.6,152.6 L143.5,153.8 L144.4,155.0 L145.2,156.3 L146.0,157.6 L146.8,158.9 L147.6,160.2 L148.3,161.5 L149.0,162.8 L149.8,164.2 L150.5,165.5 L151.2,166.9 L151.9,168.3 L152.5,169.6 L153.2,171.0 L153.9,172.4 L154.5,173.8 L155.1,175.1 L155.7,176.5 L156.4,177.9 L157.0,179.3 L157.5,180.7 L158.1,182.1 L158.7,183.5 L159.3,184.9 L159.8,186.3 L160.4,187.7 L160.9,189.1 L161.5,190.5 L162.0,191.9 L162.5,193.3 L163.1,194.7 L163.6,196.1 L164.1,197.5 L164.6,198.9 L165.2,200.3 L165.7,201.6 L166.2,203.0 L166.8,204.4 L167.3,205.8 L167.9,207.2 L168.4,208.5 L169.0,209.9 L169.6,211.3 L170.1,212.7 L170.7,214.1 L171.4,215.4 L172.0,216.8 L172.6,218.2 L173.3,219.6 L174.0,221.0 L174.7,222.4 L175.4,223.7 L176.1,225.1 L176.9,226.5 L177.6,227.9 L178.5,229.3 L179.3,230.6 L180.2,231.9 L181.1,233.2 L182.1,234.3 L183.1,235.4 L184.2,236.5 L185.3,237.4 L186.5,238.2 L187.8,238.8 L189.1,239.4 L190.5,239.8 L191.9,240.0 L193.3,240.2 L194.8,240.2 L196.2,240.1 L197.7,239.9 L199.2,239.6 L200.6,239.2 L202.0,238.6 L203.3,237.9 L204.6,237.2 L205.9,236.3 L207.1,235.4 L208.3,234.4 L209.5,233.4 L210.6,232.3 L211.7,231.3 L212.8,230.2 L213.8,229.1 L214.9,227.9 L215.9,226.8 L216.9,225.7 L218.0,224.6 L219.0,223.4 L220.0,222.3 L221.0,221.2 L222.0,220.1 L223.1,219.0 L224.1,217.9 L225.2,216.9 L226.2,215.9 L227.3,214.9 L228.5,213.9 L229.6,212.9 L230.8,212.0 L232.0,211.2 L233.3,210.3 L234.6,209.6 L236.0,208.8 L237.3,208.2 L238.7,207.6 L240.2,207.2 L241.6,206.8 L243.1,206.6 L244.6,206.6 L246.1,206.7 L247.5,207.0 L249.0,207.4 L250.4,207.9 L251.8,208.5 L253.2,209.1 L254.6,209.9 L255.9,210.6 L257.1,211.5 L258.3,212.3 L259.5,213.3 L260.7,214.2 L261.8,215.2 L262.9,216.3 L264.0,217.3 L265.1,218.4 L266.1,219.5 L267.1,220.7 L268.1,221.8 L269.1,223.0 L270.1,224.2 L271.0,225.4 L272.0,226.6 L272.9,227.8 L273.9,229.0 L274.9,230.1 L275.9,231.3 L276.9,232.4 L277.9,233.5 L279.0,234.5 L280.1,235.5 L281.3,236.5 L282.5,237.4 L283.8,238.2 L285.1,239.0 L286.5,239.7 L287.9,240.2 L289.3,240.6 L290.8,240.8 L292.2,240.8 L293.6,240.6 L295.0,240.2 L296.3,239.6 L297.5,238.8 L298.7,237.9 L299.8,236.9 L300.9,235.8 L301.9,234.6 L302.9,233.4 L303.9,232.1 L304.8,230.8 L305.8,229.6 L306.7,228.3 L307.6,227.1 L308.4,225.8 L309.3,224.6 L310.2,223.4 L311.0,222.1 L311.8,220.9 L312.6,219.7 L313.4,218.4 L314.2,217.1 L315.0,215.9 L315.8,214.6 L316.5,213.3 L317.3,212.0 L318.0,210.7 L318.8,209.4 L319.5,208.1 L320.2,206.8 L320.9,205.4 L321.6,204.1 L322.3,202.8 L323.0,201.4 L323.7,200.1 L324.3,198.7 L325.0,197.3 L325.7,196.0 L326.3,194.6 L326.9,193.2 L327.6,191.9 L328.2,190.5 L328.8,189.1 L329.5,187.7 L330.1,186.3 L330.7,185.0 L331.4,183.6 L332.0,182.2 L332.6,180.8 L333.3,179.5 L333.9,178.1 L334.6,176.7 L335.2,175.4 L335.9,174.0 L336.6,172.7 L337.3,171.3 L338.0,170.0 L338.7,168.6 L339.4,167.3 L340.1,166.0 L340.9,164.7 L341.6,163.4 L342.4,162.1 L343.2,160.9 L344.0,159.6 L344.9,158.3 L345.7,157.1 L346.6,155.9 L347.5,154.7 L348.5,153.5 L349.4,152.3 L350.4,151.2 L351.4,150.1 L352.5,149.1 L353.7,148.2 L355.0,147.5 L356.4,146.9 L357.9,146.6" fill="none" stroke="#000" stroke-width="2.25" stroke-linejoin="round"/>
<rect x="130.1" y="140.5" width="228.3" height="108.4" fill="none" stroke="#000" stroke-width="1.7"/>
<polygon points="205.8,225.0 195.3,242.0 216.3,242.0" fill="#fa0000"/>
<circle cx="320.2" cy="206.6" r="8.6" fill="#fa0000"/>
<text transform="translate(57.70,322.7) scale(0.975,1.08)" font-size="24" text-anchor="middle">90°</text>
<text transform="translate(162.20,322.7) scale(0.975,1.08)" font-size="24" text-anchor="middle">120°</text>
<text transform="translate(266.70,322.7) scale(0.975,1.08)" font-size="24" text-anchor="middle">150°</text>
<text transform="translate(371.20,322.7) scale(0.975,1.08)" font-size="24" text-anchor="middle">180°</text>
<text transform="translate(475.70,322.7) scale(0.975,1.08)" font-size="24" text-anchor="middle">150°</text>
<text transform="translate(580.20,322.7) scale(0.975,1.08)" font-size="24" text-anchor="middle">120°</text>
<text transform="translate(684.70,322.7) scale(0.975,1.08)" font-size="24" text-anchor="middle">90°</text>
<text transform="translate(47.6,18.50) scale(1,1.08)" font-size="24" text-anchor="end">4</text>
<text transform="translate(47.6,79.00) scale(1,1.08)" font-size="24" text-anchor="end">2</text>
<text transform="translate(47.6,139.50) scale(1,1.08)" font-size="24" text-anchor="end">0</text>
<text transform="translate(47.6,200.00) scale(1,1.08)" font-size="24" text-anchor="end">-2</text>
<text transform="translate(47.6,260.50) scale(1,1.08)" font-size="24" text-anchor="end">-4</text>
<text transform="translate(348.8,351.8) scale(1.2,1.05)" font-size="26" font-style="italic">θ</text>
<text transform="translate(362.0,359.6) scale(1,1.07)" font-size="22">234</text>
<text transform="translate(18.3,173.6) rotate(-90)" font-size="28"><tspan font-style="italic">F</tspan><tspan font-size="20.5" dy="8">4,</tspan><tspan font-size="20.5" font-style="italic" dx="3.2">z</tspan></text>
<text x="524.5" y="33" font-size="24">unsmoothed</text>
<text transform="translate(524.6,59.8) scale(1.1,1)" font-size="24" font-style="italic">θ</text>
<text x="536.6" y="67.2" font-size="18">s</text>
<text transform="translate(549.6,60.4) scale(1,1.08)" font-size="24">= 120°</text>
<text transform="translate(524.6,88.5) scale(1.1,1)" font-size="24" font-style="italic">θ</text>
<text x="536.6" y="95.9" font-size="18">s</text>
<text transform="translate(549.6,89.1) scale(1,1.08)" font-size="24">= 140°</text>
<text transform="translate(524.6,117.2) scale(1.1,1)" font-size="24" font-style="italic">θ</text>
<text x="536.6" y="124.6" font-size="18">s</text>
<text transform="translate(549.6,117.8) scale(1,1.08)" font-size="24">= 160°</text>
<text x="129.60" y="270" font-size="21" text-anchor="middle">-180°</text>
<text x="186.67" y="270" font-size="21" text-anchor="middle">-90°</text>
<text x="243.75" y="270" font-size="21" text-anchor="middle">0°</text>
<text x="300.82" y="270" font-size="21" text-anchor="middle">90°</text>
<text x="357.90" y="270" font-size="21" text-anchor="middle">180°</text>
<text x="123" y="244.10" font-size="21" text-anchor="end">0.0</text>
<text x="123" y="213.97" font-size="21" text-anchor="end">0.5</text>
<text x="123" y="183.83" font-size="21" text-anchor="end">1.0</text>
<text x="123" y="153.69" font-size="21" text-anchor="end">1.5</text>
<text x="239" y="287" font-size="24" font-style="italic">ϕ</text>
<text transform="translate(93.4,208.0) rotate(-90) skewX(-10)" font-size="24" font-style="italic">V</text>
<text transform="translate(100.7,192.6) rotate(-90)" font-size="19.5">0</text>
</svg>
</body></html>
